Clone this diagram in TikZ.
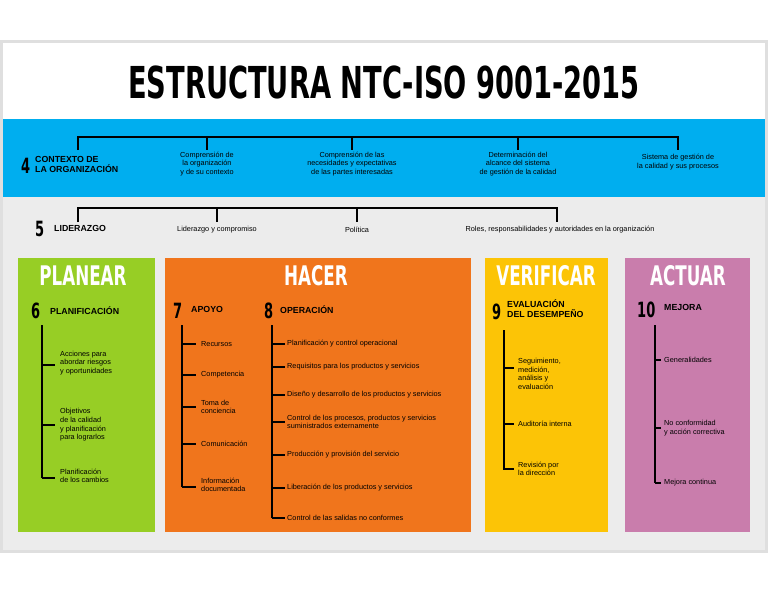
\documentclass[tikz,border=0pt]{standalone}
\usepackage{fontspec}
\setmainfont{Liberation Sans}
\newfontfamily\cond[FakeStretch=0.62]{DejaVu Sans Bold}
\definecolor{cblue}{RGB}{0,174,239}
\definecolor{cgreen}{RGB}{151,206,37}
\definecolor{corange}{RGB}{240,117,28}
\definecolor{cyellow}{RGB}{252,196,6}
\definecolor{cpink}{RGB}{201,125,172}
\begin{document}
\begin{tikzpicture}[x=1pt,y=-1pt,
  sm/.style={font=\fontsize{7.3}{8.6}\selectfont,align=left,anchor=west,inner sep=0},
  smc/.style={font=\fontsize{7.3}{8.6}\selectfont,align=center,inner sep=0},
  hd/.style={font=\fontsize{8.8}{10}\selectfont\bfseries,align=left,anchor=west,inner sep=0},
  num/.style={font=\cond\fontsize{21}{21}\selectfont,inner sep=0},
  ttl/.style={font=\cond\fontsize{27}{27}\selectfont,text=white,inner sep=0},
  br/.style={line width=1.6pt},
  tk/.style={line width=1.2pt}]
\useasboundingbox (0,0) rectangle (768,594);
\fill[white] (0,0) rectangle (768,594);
\fill[gray!25] (0,40) rectangle (768,553);
\fill[white] (3,43) rectangle (765,119);
\fill[cblue] (3,119) rectangle (765,197);
\fill[gray!15] (3,197) rectangle (765,550);
\node[font=\cond\fontsize{44}{44}\selectfont,inner sep=0] (title) at (384,82) {ESTRUCTURA NTC-ISO 9001-2015};
% row 4
\draw[br] (78,150) |- (678,137) -- (678,150);
\foreach \x in {207,352,518} \draw[br] (\x,137) -- (\x,150);
\node[num,anchor=west] (n4) at (21,166) {4};
\node[hd] (h4) at (35,164) {CONTEXTO DE\\LA ORGANIZACIÓN};
\node[smc] (c1) at (207,164) {Comprensión de\\la organización\\y de su contexto};
\node[smc] (c2) at (352,164) {Comprensión de las\\necesidades y expectativas\\de las partes interesadas};
\node[smc] (c3) at (518,164) {Determinación del\\alcance del sistema\\de gestión de la calidad};
\node[smc] (c4) at (678,162) {Sistema de gestión de\\la calidad y sus procesos};
% row 5
\draw[br] (78,222) |- (557,208) -- (557,222);
\foreach \x in {217,357} \draw[br] (\x,208) -- (\x,222);
\node[num,anchor=west] (n5) at (35,229) {5};
\node[hd] (h5) at (54,228) {LIDERAZGO};
\node[smc] (l1) at (217,230) {Liderazgo y compromiso};
\node[smc] (l2) at (357,230) {Política};
\node[smc] (l3) at (560,230) {Roles, responsabilidades y autoridades en la organización};
% panels
\fill[cgreen] (18,258) rectangle (155,532);
\fill[corange] (165,258) rectangle (471,532);
\fill[cyellow] (485,258) rectangle (608,532);
\fill[cpink] (625,258) rectangle (750,532);
\node[ttl] (t1) at (83,276) {PLANEAR};
\node[ttl] (t2) at (316,276) {HACER};
\node[ttl] (t3) at (546,276) {VERIFICAR};
\node[ttl] (t4) at (688,276) {ACTUAR};
% planear
\node[num,anchor=west] (n6) at (31,311) {6};
\node[hd] (h6) at (50,311) {PLANIFICACIÓN};
\draw[tk] (42,325) -- (42,478);
\foreach \y in {365,425,478} \draw[tk] (42,\y) -- (55,\y);
\node[sm] (p1) at (60,363) {Acciones para\\abordar riesgos\\y oportunidades};
\node[sm] (p2) at (60,425) {Objetivos\\de la calidad\\y planificación\\para lograrlos};
\node[sm] (p3) at (60,476) {Planificación\\de los cambios};
% apoyo
\node[num,anchor=west] (n7) at (173,311) {7};
\node[hd] (h7) at (191,309) {APOYO};
\draw[tk] (182,325) -- (182,487);
\foreach \y in {344,375,407,444,487} \draw[tk] (182,\y) -- (196,\y);
\node[sm] (a1) at (201,344) {Recursos};
\node[sm] (a2) at (201,375) {Competencia};
\node[sm] (a3) at (201,407) {Toma de\\conciencia};
\node[sm] (a4) at (201,444) {Comunicación};
\node[sm] (a5) at (201,485) {Información\\documentada};
% operacion
\node[num,anchor=west] (n8) at (264,311) {8};
\node[hd] (h8) at (280,310) {OPERACIÓN};
\draw[tk] (272,325) -- (272,518);
\foreach \y in {344,367,395,422,455,488,518} \draw[tk] (272,\y) -- (285,\y);
\node[sm] (o1) at (287,344) {Planificación y control operacional};
\node[sm] (o2) at (287,367) {Requisitos para los productos y servicios};
\node[sm] (o3) at (287,395) {Diseño y desarrollo de los productos y servicios};
\node[sm] (o4) at (287,422) {Control de los procesos, productos y servicios\\suministrados externamente};
\node[sm] (o5) at (287,455) {Producción y provisión del servicio};
\node[sm] (o6) at (287,488) {Liberación de los productos y servicios};
\node[sm] (o7) at (287,518) {Control de las salidas no conformes};
% verificar
\node[num,anchor=west] (n9) at (492,312) {9};
\node[hd] (h9) at (507,309) {EVALUACIÓN\\DEL DESEMPEÑO};
\draw[tk] (504,330) -- (504,470);
\foreach \y in {368,424,469} \draw[tk] (504,\y) -- (514,\y);
\node[sm] (v1) at (518,374) {Seguimiento,\\medición,\\análisis y\\evaluación};
\node[sm] (v2) at (518,424) {Auditoría interna};
\node[sm] (v3) at (518,469) {Revisión por\\la dirección};
% actuar
\node[num,anchor=west] (n10) at (637,310) {10};
\node[hd] (h10) at (664,307) {MEJORA};
\draw[tk] (655,325) -- (655,483);
\foreach \y in {360,428,483} \draw[tk] (655,\y) -- (661,\y);
\node[sm] (m1) at (664,360) {Generalidades};
\node[sm] (m2) at (664,428) {No conformidad\\y acción correctiva};
\node[sm] (m3) at (664,483) {Mejora continua};
\end{tikzpicture}
\end{document}
